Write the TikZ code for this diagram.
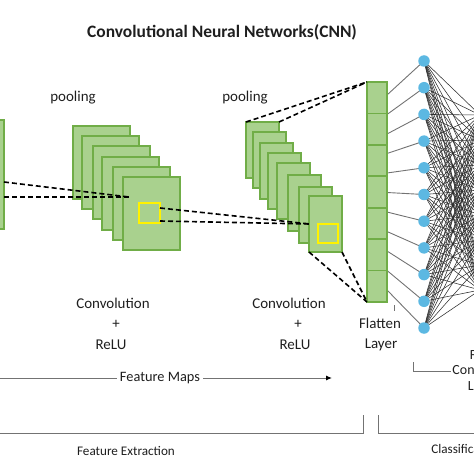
\documentclass[tikz,border=0pt]{standalone}
\usepackage{fontspec}
\setmainfont{Carlito}
\usetikzlibrary{arrows.meta,calc}
\definecolor{fmfill}{RGB}{169,209,142}
\definecolor{fmline}{RGB}{112,173,71}
\definecolor{neuron}{RGB}{92,184,226}
\definecolor{txt}{RGB}{30,30,30}
\definecolor{gline}{RGB}{115,115,115}
\definecolor{dline}{RGB}{45,45,45}
\pgfdeclarelayer{bg}
\pgfsetlayers{bg,main}
\begin{document}
\begin{tikzpicture}[x=1bp,y=-1bp,
  fmap/.style={draw=fmline, fill=fmfill, line width=1.2bp, inner sep=0pt, outer sep=0pt, anchor=north west},
  fmone/.style={fmap, minimum width=57bp, minimum height=73bp},
  fmtwo/.style={fmap, minimum width=33bp, minimum height=56bp},
  cellbox/.style={fmap, line width=1.6bp, minimum width=20bp, minimum height=31.43bp},
  ybox/.style={draw=yellow, line width=1.8bp, inner sep=0pt, outer sep=0pt, anchor=north west, minimum width=21bp, minimum height=20bp},
  dsh/.style={dash pattern=on 5bp off 3bp, line width=1.6bp, black},
  neu/.style={circle, fill=neuron, minimum size=11.5bp, inner sep=0pt},
  lbl/.style={text=txt, font=\fontsize{15}{18}\selectfont, inner sep=0pt},
  fc/.style={gline, line width=0.9bp},
  dense/.style={dline, line width=0.55bp},
  brk/.style={gline, line width=1bp}
]
\useasboundingbox (0,0) rectangle (474,474);
\clip (0,0) rectangle (474,474);

% title
\node[text=txt, font=\fontsize{17.5}{20}\selectfont\bfseries] (title) at (222,32) {Convolutional Neural Networks(CNN)};

% left partial map
\node[fmap, minimum width=20bp, minimum height=109bp] (L0) at (-16,120) {};

% stack 1
\foreach \n/\x/\y in {a/73/126, b/82/136, c/93/146, d/102/157, e/113/167, f/123/177}
  \node[fmone] (s1\n) at (\x,\y) {};
\node[ybox] (y1) at (139,203) {};

% stack 2
\foreach \n/\x/\y in {a/246/122, b/253/132, c/260/143, d/268/153, e/277/163, f/288/175, g/299/187, h/309/196}
  \node[fmtwo] (s2\n) at (\x,\y) {};
\node[ybox, minimum width=20bp, minimum height=19bp] (y2) at (318,224) {};

% flatten
\foreach \i in {0,...,6}
  \node[cellbox] (f\i) at (367,{82+31.43*\i}) {};

% dashed projections
\coordinate (l1) at (4,182);
\coordinate (l2) at (4,197);
\coordinate (c1) at (129,197);
\coordinate (c2) at (310,224);
\draw[dsh] (l1) -- (c1);
\draw[dsh] (l2) -- (c1);
\draw[dsh] ([yshift=-5bp]y1.north east) -- (c2);
\draw[dsh] ([yshift=-18bp]y1.north east) -- (c2);
\draw[dsh] (s2a.north west) -- (f0.north west);
\draw[dsh] (s2a.north east) -- (f0.north west);
\draw[dsh] (s2h.south west) -- (f6.south west);
\draw[dsh] (s2h.south east) -- (f6.south west);

% neurons
\foreach \i in {1,...,11}
  \node[neu] (n\i) at (424,{61+26.7*(\i-1)}) {};
\foreach \i in {1,...,11}
  \coordinate (p\i) at (387,{95+19.5*(\i-1)});
\foreach \j in {1,...,8}
  \coordinate (h\j) at (480,{115+25*(\j-1)});
\begin{pgfonlayer}{bg}
\foreach \i in {1,...,11}
  \draw[fc] (p\i) -- (n\i.center);
\foreach \i in {1,...,11}
  \foreach \j in {1,...,8}
    \draw[dense] (n\i.center) -- (h\j);
\end{pgfonlayer}

% tick
\coordinate (t1) at (394,305);
\coordinate (t2) at (394,311);
\draw[gline, line width=0.8bp] (t1) -- (t2);

% labels
\node[lbl] (pool1) at (73,98) {pooling};
\node[lbl] (pool2) at (245,98) {pooling};
\node[lbl] (conv1) at (113,303) {Convolution};
\node[lbl] (plus1) at (116,324) {+};
\node[lbl] (relu1) at (111,345) {ReLU};
\node[lbl] (conv2) at (289,303) {Convolution};
\node[lbl] (plus2) at (298,324) {+};
\node[lbl] (relu2) at (295,345) {ReLU};
\node[lbl] (flat1) at (380,323) {Flatten};
\node[lbl] (flat2) at (381,345) {Layer};

% feature maps arrow
\node[lbl, inner sep=3bp, font=\fontsize{14.4}{17}\selectfont] (fmaps) at (160,378) {Feature Maps};
\coordinate (fmL) at (0,378);
\coordinate (fmR) at (332,378);
\draw[gline, line width=1bp] (fmL) -- (fmaps.west);
\draw[gline, line width=1bp, -{Latex[length=6bp,width=5bp,black]}] (fmaps.east) -- (fmR);

% fully connected label
\node[text=txt, align=center, inner sep=1bp, font=\fontsize{14}{15.5}\selectfont] (fcl) at (483,371) {Fully\\Connected\\Layer};
\coordinate (b1) at (413,362);
\draw[brk] (b1) |- (fcl.west);

% bottom brackets
\coordinate (e1) at (0,433);
\coordinate (e2) at (363,433);
\coordinate (e3) at (363,415);
\coordinate (k1) at (378,415);
\coordinate (k2) at (378,433);
\coordinate (k3) at (474,433);
\draw[brk] (e1) -- (e2) -- (e3);
\draw[brk] (k1) -- (k2) -- (k3);
\node[lbl, font=\fontsize{13.2}{16}\selectfont] (fext) at (126,451) {Feature Extraction};
\node[lbl, font=\fontsize{13.2}{16}\selectfont] (fcls) at (466,449) {Classification};
\end{tikzpicture}
\end{document}
